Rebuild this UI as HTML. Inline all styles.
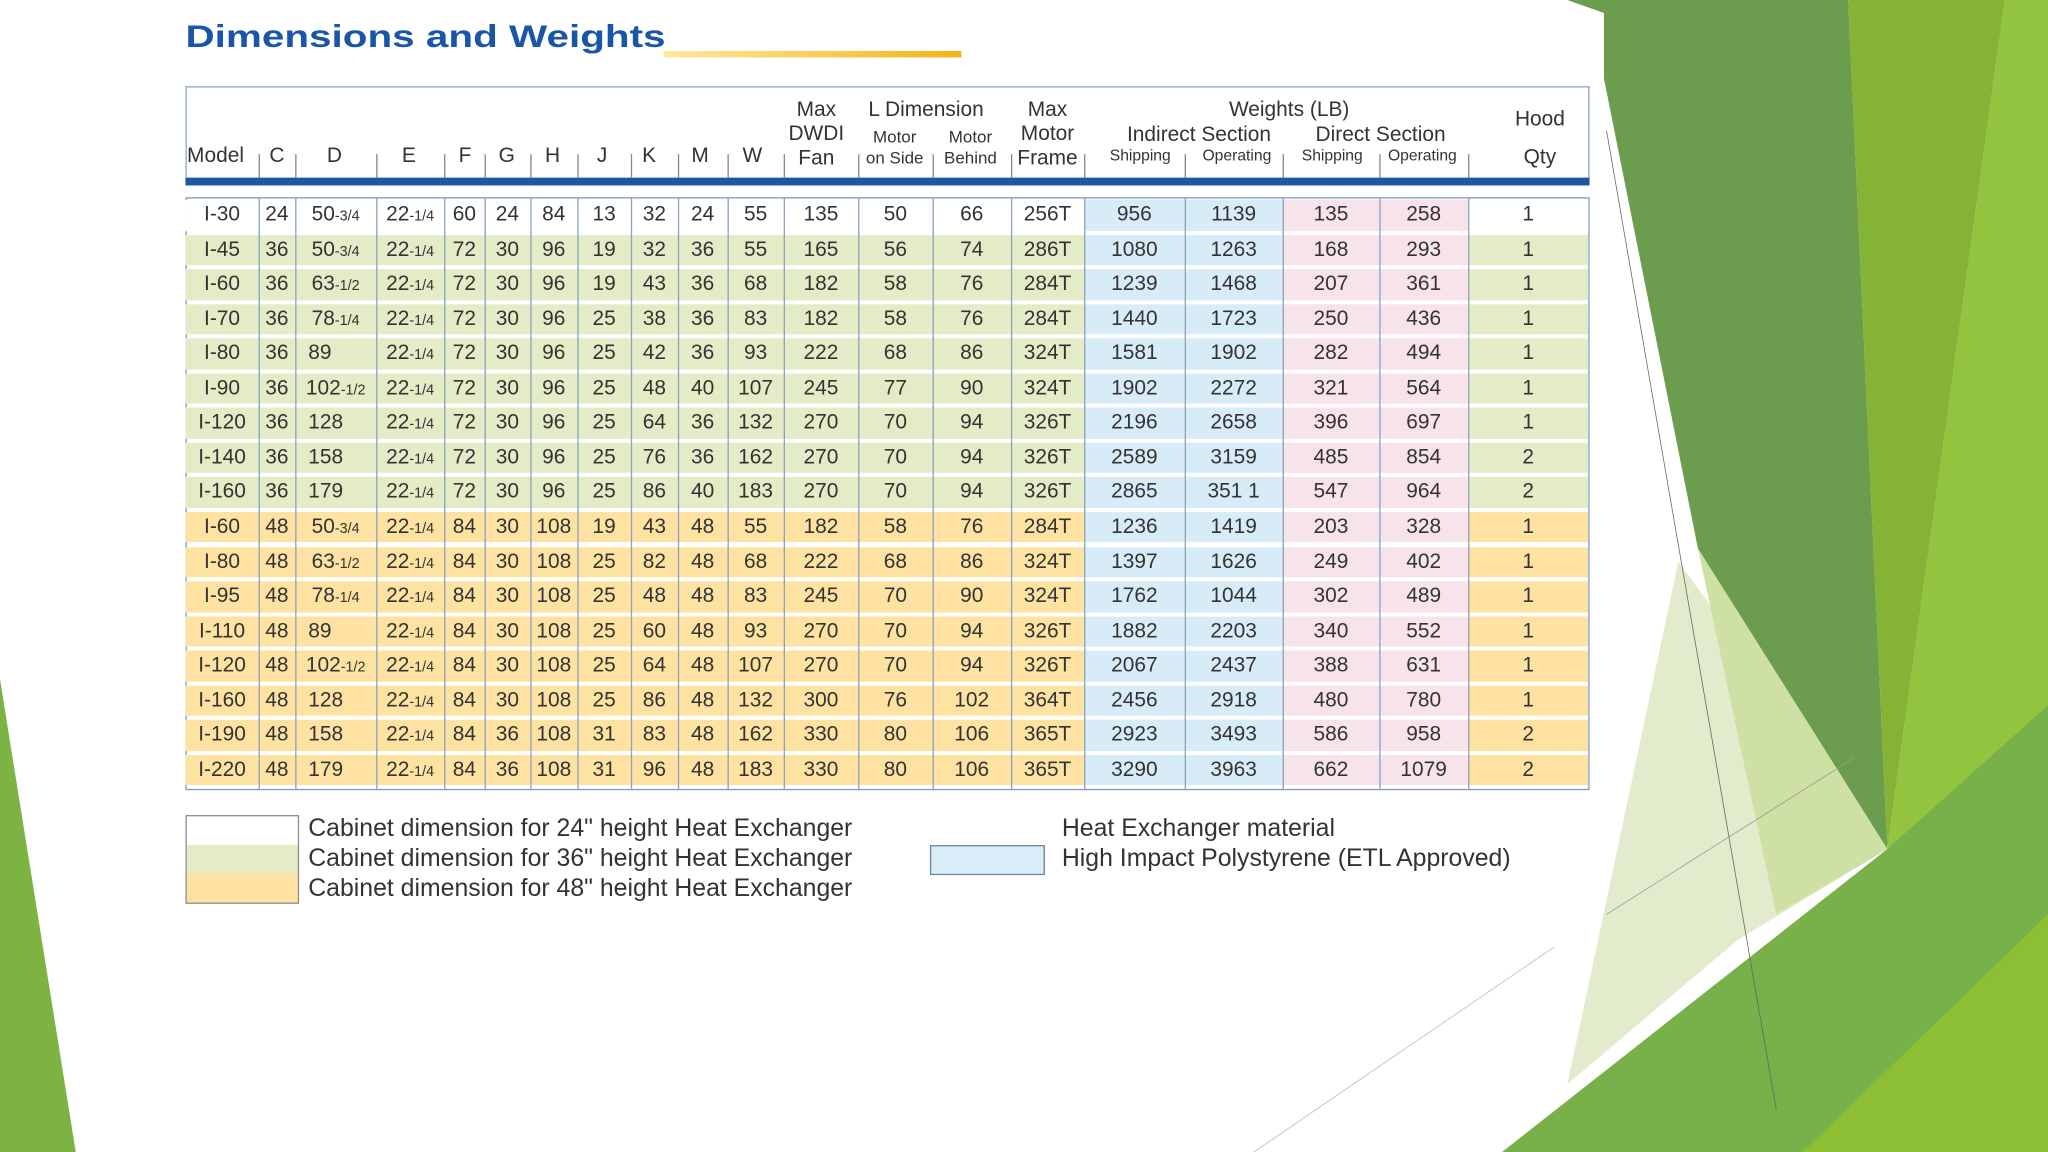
<!DOCTYPE html>
<html><head><meta charset="utf-8"><style>
html,body{margin:0;padding:0;background:#fff;overflow:hidden}
#bg{position:absolute;left:0;top:0}
#wrap{position:absolute;left:0;top:0;width:1568px;height:882px;transform:scale(1.306122);transform-origin:0 0;font-family:"Liberation Sans",sans-serif;color:#333}
.a{position:absolute;white-space:nowrap}
.c{position:absolute;text-align:center;white-space:nowrap}
</style></head><body>
<svg id="bg" width="2048" height="1152" viewBox="0 0 1568 882">
<polygon points="0,520 58,882 0,882" fill="#7cb342"/>
<polygon points="1200,0 1415,0 1445,650 1300,420 1228,60 1228,10" fill="#6c9c4e"/>
<polygon points="1415,0 1535,0 1445,650" fill="#84b336"/>
<polygon points="1535,0 1568,0 1568,882 1380,882 1445,650" fill="#93c43f"/>
<polygon points="1285,430 1445,650 1330,720 1200,830 1215,760" fill="#dfe9c6" opacity="0.9"/>
<polygon points="1300,420 1445,650 1360,700" fill="#cfe0a4"/>
<polygon points="1150,882 1445,650 1568,540 1568,882" fill="#78b04a"/>
<polygon points="1380,882 1568,700 1568,882" fill="#8cbf34"/>
<line x1="1230" y1="100" x2="1360" y2="850" stroke="#666" stroke-width="0.6"/>
<line x1="1230" y1="700" x2="1420" y2="580" stroke="#999" stroke-width="0.6"/>
<line x1="960" y1="882" x2="1190" y2="725" stroke="#bbb" stroke-width="0.6"/>
</svg>
<div id="wrap">
<div class="a" style="left:142px;top:15px;font-size:24px;font-weight:bold;color:#1a56a8;transform:scaleX(1.29);transform-origin:0 0">Dimensions and Weights</div>
<div class="a" style="left:508px;top:39px;width:228px;height:5px;background:linear-gradient(90deg,#fde9a0,#f2b418)"></div>
<div class="a" style="left:142px;top:66px;width:1073px;height:70px;border:1px solid #8aa6c4;border-bottom:none;background:#fff"></div>
<div class="a" style="left:142px;top:136px;width:1075px;height:6px;background:#1d56a5"></div>
<div class="a" style="left:142px;top:151px;width:1073px;height:452px;border:1px solid #7d9cc0;background:#fff"></div>
<div id="tbl"></div>
<div class="a" style="left:142px;top:624px;width:85px;height:66px;border:1px solid #8c8c8c;background:linear-gradient(#fff 0,#fff 33%,#e3ecc6 33%,#e3ecc6 66%,#fde2a2 66%)"></div>
<div class="a" style="left:236px;top:624px;font-size:19px">Cabinet dimension for 24" height Heat Exchanger</div>
<div class="a" style="left:236px;top:647px;font-size:19px">Cabinet dimension for 36" height Heat Exchanger</div>
<div class="a" style="left:236px;top:670px;font-size:19px">Cabinet dimension for 48" height Heat Exchanger</div>
<div class="a" style="left:813px;top:624px;font-size:19px">Heat Exchanger material</div>
<div class="a" style="left:712px;top:647px;width:86px;height:21px;border:1px solid #6f8296;background:#d9eef9"></div>
<div class="a" style="left:813px;top:647px;font-size:19px">High Impact Polystyrene (ETL Approved)</div>
</div>
<script>
const models=["I-30","I-45","I-60","I-70","I-80","I-90","I-120","I-140","I-160","I-60","I-80","I-95","I-110","I-120","I-160","I-190","I-220"];
const colC=["24","36","36","36","36","36","36","36","36","48","48","48","48","48","48","48","48"];
const colD=["50-3/4","50-3/4","63-1/2","78-1/4","89","102-1/2","128","158","179","50-3/4","63-1/2","78-1/4","89","102-1/2","128","158","179"];
const colE=Array(17).fill("22-1/4");
const colF=["60","72","72","72","72","72","72","72","72","84","84","84","84","84","84","84","84"];
const colG=["24","30","30","30","30","30","30","30","30","30","30","30","30","30","30","36","36"];
const colH=["84","96","96","96","96","96","96","96","96","108","108","108","108","108","108","108","108"];
const colJ=["13","19","19","25","25","25","25","25","25","19","25","25","25","25","25","31","31"];
const colK=["32","32","43","38","42","48","64","76","86","43","82","48","60","64","86","83","96"];
const colM=["24","36","36","36","36","40","36","36","40","48","48","48","48","48","48","48","48"];
const colW=["55","55","68","83","93","107","132","162","183","55","68","83","93","107","132","162","183"];
const fan=["135","165","182","182","222","245","270","270","270","182","222","245","270","270","300","330","330"];
const lSide=["50","56","58","58","68","77","70","70","70","58","68","70","70","70","76","80","80"];
const lBehind=["66","74","76","76","86","90","94","94","94","76","86","90","94","94","102","106","106"];
const frame=["256T","286T","284T","284T","324T","324T","326T","326T","326T","284T","324T","324T","326T","326T","364T","365T","365T"];
const indShip=["956","1080","1239","1440","1581","1902","2196","2589","2865","1236","1397","1762","1882","2067","2456","2923","3290"];
const indOp=["1139","1263","1468","1723","1902","2272","2658","3159","351 1","1419","1626","1044","2203","2437","2918","3493","3963"];
const dirShip=["135","168","207","250","282","321","396","485","547","203","249","302","340","388","480","586","662"];
const dirOp=["258","293","361","436","494","564","697","854","964","328","402","489","552","631","780","958","1079"];
const hood=["1","1","1","1","1","1","1","2","2","1","1","1","1","1","1","2","2"];
const heights=[24,36,36,36,36,36,36,36,36,48,48,48,48,48,48,48,48];
const cols=[models,colC,colD,colE,colF,colG,colH,colJ,colK,colM,colW,fan,lSide,lBehind,frame,indShip,indOp,dirShip,dirOp,hood];
const bounds=[142,198,226,288,340,371,406,442,483,519,557,600,657,714,774,830,907,982,1056,1124,1216];
const colNames=["model","c","d","e","f","g","h","j","k","m","w","fan","l-side","l-behind","frame","indirect-shipping","indirect-operating","direct-shipping","direct-operating","hood-qty"];
const rowBg={24:"#ffffff",36:"#e3ecc6",48:"#fde2a2"};
const t=document.getElementById('tbl');
const y0=153,rh=26.55;
function mk(cls,css,txt){const d=document.createElement('div');d.className=cls;d.style.cssText=css;if(txt!==undefined)d.innerHTML=txt;t.appendChild(d);return d;}
for(let r=0;r<models.length;r++){
  const y=y0+r*rh;
  for(let c=0;c<cols.length;c++){
    let bg=rowBg[heights[r]];
    if(c===15||c===16)bg="#d8ecf8";
    if(c===17||c===18)bg="#f7e3ea";
    const x=bounds[c],w=bounds[c+1]-x;
    let v=cols[c][r];
    let al="center";
    if((c===2||c===3)&&v.includes("-")){const p=v.split("-");v=p[0]+'<span style="font-size:11px">-'+p[1]+'</span>';}
    if(c===2&&!cols[c][r].includes("-"))al="left;padding-left:10px;box-sizing:border-box";
    const d=mk('c',`left:${x}px;top:${y}px;width:${w}px;height:${rh-3}px;line-height:${rh-3}px;background:${bg};font-size:16px;text-align:${al};color:#333`,v);
    
    
  }
}
for(let c=1;c<bounds.length-1;c++){
  const l=mk('a',`left:${bounds[c]}px;top:152px;width:1px;height:452px;background:#8aa2bc`);
  
  
  const tk=mk('a',`left:${bounds[c]}px;top:118px;width:1px;height:18px;background:#7a8a9a`);
  
  
}
const hdrLabels=[["Model",165,111,16],["C",212,111,16],["D",256,111,16],["E",313,111,16],["F",356,111,16],["G",388,111,16],["H",423,111,16],["J",461,111,16],["K",497,111,16],["M",536,111,16],["W",576,111,16],
["Max",625,76,16],["DWDI",625,94,16],["Fan",625,113,16],["L Dimension",709,76,16],["Motor",685,97,13],["on Side",685,113,13],["Motor",743,97,13],["Behind",743,113,13],
["Max",802,76,16],["Motor",802,94,16],["Frame",802,113,16],["Weights (LB)",987,76,16],["Indirect Section",918,95,16],["Direct Section",1057,95,16],
["Shipping",873,112,12],["Operating",947,112,12],["Shipping",1020,112,12],["Operating",1089,112,12],["Hood",1179,83,16],["Qty",1179,112,16]];
hdrLabels.forEach(h=>{
  const d=mk('c',`left:${h[1]-70}px;top:${h[2]}px;width:140px;font-size:${h[3]}px;color:#333`,h[0]);
  
  
});
</script>
</body></html>
